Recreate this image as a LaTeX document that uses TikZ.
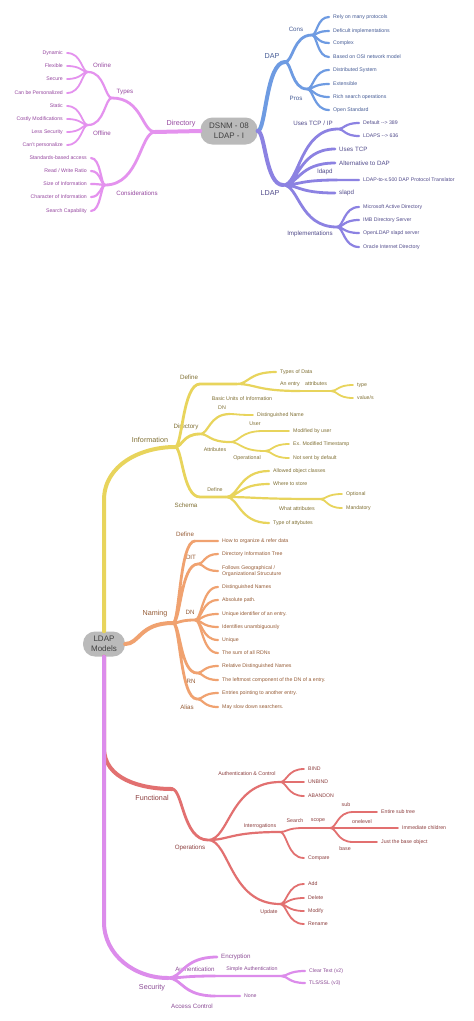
\documentclass[tikz,border=0pt]{standalone}
\usepackage{fontspec}
\setmainfont{Liberation Sans}
\usetikzlibrary{calc}

\definecolor{dirL}{RGB}{228,146,238}
\definecolor{dirT}{RGB}{150,72,160}
\definecolor{dapL}{RGB}{110,155,226}
\definecolor{dapT}{RGB}{70,92,150}
\definecolor{ldapL}{RGB}{140,130,226}
\definecolor{ldapT}{RGB}{82,76,140}
\definecolor{infL}{RGB}{232,212,92}
\definecolor{infT}{RGB}{128,112,52}
\definecolor{namL}{RGB}{240,162,112}
\definecolor{namT}{RGB}{150,92,54}
\definecolor{funL}{RGB}{226,112,112}
\definecolor{funT}{RGB}{140,62,62}
\definecolor{secL}{RGB}{220,140,235}
\definecolor{secT}{RGB}{140,76,150}
\definecolor{rootF}{RGB}{186,186,186}

\tikzset{
  sbranch/.style={line cap=round, to path={let \p1=(\tikztostart),\p2=(\tikztotarget) in
      .. controls ({\x1+0.3*(\x2-\x1)},\y1) and ({\x1+0.3*(\x2-\x1)},\y2) .. (\tikztotarget) \tikztonodes}},
  wA/.style={line width=4pt, line cap=round},
  wB/.style={line width=2.8pt},
  wC/.style={line width=2.2pt},
  wD/.style={line width=1.8pt},
  rootnode/.style={fill=rootF, rounded corners=12pt, minimum width=57pt, minimum height=27pt,
      inner sep=1pt, align=center, font=\fontsize{8}{10}\selectfont, text=black!75},
  labA/.style={inner sep=0pt, font=\fontsize{7.2}{8}\selectfont},
  labB/.style={inner sep=0pt, font=\fontsize{6.2}{7}\selectfont},
  labC/.style={inner sep=0pt, font=\fontsize{5.3}{6}\selectfont},
  leafR/.style={anchor=west, inner xsep=4pt, inner ysep=1pt, align=left, font=\fontsize{5.2}{6.3}\selectfont},
  leafRB/.style={leafR, font=\fontsize{6.2}{7}\selectfont},
  leafL/.style={anchor=east, inner xsep=4pt, inner ysep=1pt, font=\fontsize{5.2}{6.3}\selectfont},
}

\begin{document}
\begin{tikzpicture}[x=1pt,y=-1pt]
\useasboundingbox (0,0) rectangle (474,1021);
\fill[white] (0,0) rectangle (474,1021);

% ===== DSNM - 08 map =====
\node[rootnode] (dsnm) at (229,131) {DSNM - 08\\LDAP - I};

% Directory
\coordinate (jDir) at (155,132);
\coordinate (jTypes) at (112,98);
\coordinate (jOnline) at (88,72);
\coordinate (jOffline) at (88,125);
\coordinate (jConsid) at (105,185);
\node[labA,text=dirT] (dir) at (181,124) {Directory};
\node[labB,text=dirT] (types) at (125,92) {Types};
\node[labB,text=dirT] (online) at (102,65) {Online};
\node[labB,text=dirT] (offline) at (102,133) {Offline};
\node[labB,text=dirT] (consid) at (137,193) {Considerations};
\draw[dirL,wA] (dsnm.west) -- (jDir);
\draw[dirL,wB,sbranch] (jDir) to (jTypes) (jDir) to (jConsid);
\draw[dirL,wC,sbranch] (jTypes) to (jOnline) (jTypes) to (jOffline);
\foreach \y/\t [count=\i] in {53/Dynamic,66/Flexible,79/Secure,93/Can be Personalized}{
  \node[leafL,text=dirT] (onl\i) at (67,\y) {\t};
  \draw[dirL,wD,sbranch] (jOnline) to (onl\i.east);
}
\foreach \y/\t [count=\i] in {106/Static,119/Costly Modifications,132/Less Security,145/Can't personalize}{
  \node[leafL,text=dirT] (off\i) at (67,\y) {\t};
  \draw[dirL,wD,sbranch] (jOffline) to (off\i.east);
}
\foreach \y/\t [count=\i] in {158/Standards-based access,171/{Read / Write Ratio},184/Size of Information,197/Character of Information,211/Search Capability}{
  \node[leafL,text=dirT] (csd\i) at (91,\y) {\t};
  \draw[dirL,wC,sbranch] (jConsid) to (csd\i.east);
}

% DAP
\coordinate (jDAP) at (285,62);
\coordinate (jCons) at (312,35);
\coordinate (jPros) at (307,89);
\node[labA,text=dapT] (dap) at (272,56) {DAP};
\node[labB,text=dapT] (cons) at (296,29) {Cons};
\node[labB,text=dapT] (pros) at (296,98) {Pros};
\draw[dapL,wA,sbranch] (dsnm.east) to (jDAP);
\draw[dapL,wB,sbranch] (jDAP) to (jCons) (jDAP) to (jPros);
\foreach \y/\t [count=\i] in {17/Rely on many protocols,31/Deficult implementations,43/Complex,57/Based on OSI network model}{
  \node[leafR,text=dapT] (con\i) at (329,\y) {\t};
  \draw[dapL,wC,sbranch] (jCons) to (con\i.west);
}
\foreach \y/\t [count=\i] in {70/Distributed System,84/Extensible,97/Rich search operations,110/Open Standard}{
  \node[leafR,text=dapT] (pro\i) at (329,\y) {\t};
  \draw[dapL,wC,sbranch] (jPros) to (pro\i.west);
}

% LDAP
\coordinate (jLDAP) at (283,185);
\coordinate (jTcpip) at (338,129);
\coordinate (jLdapd) at (337,180);
\coordinate (jImpl) at (337,227);
\node[labA,text=ldapT] (ldap) at (270,193) {LDAP};
\node[labB,text=ldapT] (tcpip) at (313,123) {Uses TCP / IP};
\node[labB,text=ldapT] (ldapd) at (325,172) {ldapd};
\node[labB,text=ldapT] (impl) at (310,234) {Implementations};
\node[leafRB,text=ldapT] (usetcp) at (335,149) {Uses TCP};
\node[leafRB,text=ldapT] (altdap) at (335,163) {Alternative to DAP};
\node[leafRB,text=ldapT] (slapd) at (335,193) {slapd};
\node[leafR,text=ldapT] (port1) at (359,123) {Default -{}-> 389};
\node[leafR,text=ldapT] (port2) at (359,136) {LDAPS -{}-> 636};
\node[leafR,text=ldapT] (transl) at (359,180) {LDAP-to-x.500 DAP Protocol Translator};
\draw[ldapL,wA,sbranch] (dsnm.east) to (jLDAP);
\draw[ldapL,wB,sbranch] (jLDAP) to (jTcpip) (jLDAP) to (usetcp.west) (jLDAP) to (altdap.west)
  (jLDAP) to (jLdapd) (jLDAP) to (slapd.west) (jLDAP) to (jImpl);
\draw[ldapL,wC,sbranch] (jTcpip) to (port1.west) (jTcpip) to (port2.west) (jLdapd) to (transl.west);
\foreach \y/\t [count=\i] in {207/Microsoft Active Directory,220/IMB Directory Server,233/OpenLDAP slapd server,247/Oracle Internet Directory}{
  \node[leafR,text=ldapT] (imp\i) at (359,\y) {\t};
  \draw[ldapL,wC,sbranch] (jImpl) to (imp\i.west);
}

% ===== LDAP Models map =====
\node[rootnode,minimum width=42pt,minimum height=25pt] (models) at (104,644) {LDAP\\Models};

% Information
\coordinate (cUp) at (104,500);
\coordinate (jInfo) at (175,447);
\coordinate (jIDef) at (200,384);
\coordinate (jIDefE) at (237,384);
\coordinate (jEntry) at (300,391);
\coordinate (jAttrs) at (331,391);
\coordinate (jIDir) at (200,434);
\coordinate (jIDN) at (230,414);
\coordinate (jIAttr) at (230,442);
\coordinate (jUser) at (263,431);
\coordinate (jOper) at (265,451);
\coordinate (jSchema) at (200,497);
\coordinate (jSDef) at (226,497);
\coordinate (jWhat) at (320,499);
\node[labA,text=infT] (info) at (150,440) {Information};
\node[labB,text=infT] (idef) at (189,377) {Define};
\node[labC,text=infT] (entry) at (290,384) {An entry};
\node[labC,text=infT] (attrs) at (316,384) {attributes};
\node[labC,text=infT] (basic) at (242,399) {Basic Units of Information};
\node[labB,text=infT] (idir) at (186,427) {Directory};
\node[labC,text=infT] (idn) at (222,408) {DN};
\node[labC,text=infT] (iattr) at (215,450) {Attributes};
\node[labC,text=infT] (user) at (255,424) {User};
\node[labC,text=infT] (oper) at (247,458) {Operational};
\node[labB,text=infT] (schema) at (186,505) {Schema};
\node[labC,text=infT] (sdef) at (215,490) {Define};
\node[labC,text=infT] (what) at (297,509) {What attributes};
\node[leafR,text=infT] (typdata) at (276,372) {Types of Data};
\node[leafR,text=infT] (type) at (353,385) {type};
\node[leafR,text=infT] (values) at (353,398) {value/s};
\node[leafR,text=infT] (dname) at (253,415) {Distinguished Name};
\node[leafR,text=infT] (moduser) at (289,431) {Modified by user};
\node[leafR,text=infT] (exmod) at (289,444) {Ex. Modified Timestamp};
\node[leafR,text=infT] (notsent) at (289,458) {Not sent by default};
\node[leafR,text=infT] (allowed) at (269,471) {Allowed object classes};
\node[leafR,text=infT] (where) at (269,484) {Where to store};
\node[leafR,text=infT] (typeatt) at (269,523) {Type of attybutes};
\node[leafR,text=infT] (optional) at (342,494) {Optional};
\node[leafR,text=infT] (mandatory) at (342,508) {Mandatory};
\draw[infL,wA] (models.north) -- (cUp) to[out=90,in=180] (jInfo);
\draw[infL,wB,sbranch] (jInfo) to (jIDef) -- (jIDefE) (jInfo) to (jIDir) (jInfo) to (jSchema) -- (jSDef);
\draw[infL,wC,sbranch] (jIDefE) to (typdata.west) (jIDefE) to (jEntry) (jIDir) to (jIDN) (jIDir) to (jIAttr)
  (jSDef) to (allowed.west) (jSDef) to (where.west) (jSDef) to (jWhat) (jSDef) to (typeatt.west);
\draw[infL,wD,sbranch] (jEntry) -- (jAttrs) (jAttrs) to (type.west) (jAttrs) to (values.west)
  (jIDN) to (dname.west) (jIAttr) to (jUser) (jIAttr) to (jOper) (jUser) to (moduser.west)
  (jOper) to (exmod.west) (jOper) to (notsent.west) (jWhat) to (optional.west) (jWhat) to (mandatory.west);

% Naming
\coordinate (jNaming) at (173,623);
\coordinate (jNDef) at (195,541);
\coordinate (jDIT) at (198,564);
\coordinate (jNDN) at (195,620);
\coordinate (jRN) at (197,673);
\coordinate (jAlias) at (197,699);
\node[labA,text=namT] (naming) at (155,614) {Naming};
\node[labB,text=namT] (ndef) at (185,534) {Define};
\node[labB,text=namT] (dit) at (191,557) {DIT};
\node[labB,text=namT] (ndn) at (190,612) {DN};
\node[labB,text=namT] (rn) at (191,681) {RN};
\node[labB,text=namT] (alias) at (187,707) {Alias};
\node[leafR,text=namT] (howto) at (218,541) {How to organize \& refer data};
\node[leafR,text=namT] (dirtree) at (218,554) {Directory Information Tree};
\node[leafR,text=namT] (follows) at (218,571) {Follows Geographical /\\Organizational Strucuture};
\draw[namL,wA,sbranch] (models.east) to (jNaming);
\draw[namL,wB,sbranch] (jNaming) to (jNDef) (jNaming) to (jDIT) (jNaming) to (jNDN) (jNaming) to (jRN) (jNaming) to (jAlias);
\draw[namL,wC,sbranch] (jNDef) to (howto.west) (jDIT) to (dirtree.west) (jDIT) to (follows.west);
\foreach \y/\t [count=\i] in {587/Distinguished Names,600/Absolute path.,614/Unique identifier of an entry.,627/Identifies unambiguously,640/Unique,653/The sum of all RDNs}{
  \node[leafR,text=namT] (dn\i) at (218,\y) {\t};
  \draw[namL,wC,sbranch] (jNDN) to (dn\i.west);
}
\foreach \y/\t [count=\i] in {666/Relative Distinguished Names,680/The leftmost component of the DN of a entry.}{
  \node[leafR,text=namT] (rn\i) at (218,\y) {\t};
  \draw[namL,wC,sbranch] (jRN) to (rn\i.west);
}
\foreach \y/\t [count=\i] in {693/Entries pointing to another entry.,707/May slow down searchers.}{
  \node[leafR,text=namT] (al\i) at (218,\y) {\t};
  \draw[namL,wC,sbranch] (jAlias) to (al\i.west);
}

% Functional
\coordinate (cDownF) at (104,748);
\coordinate (jFunc) at (172,789);
\coordinate (jOps) at (208,840);
\coordinate (jAC) at (280,782);
\coordinate (jInt) at (280,832);
\coordinate (jSearch) at (303,828);
\coordinate (jScope) at (330,828);
\coordinate (jSub) at (353,812);
\coordinate (jOne) at (373,828);
\coordinate (jBase) at (353,842);
\coordinate (jUpd) at (280,904);
\node[labA,text=funT] (func) at (152,798) {Functional};
\node[labB,text=funT] (ops) at (190,848) {Operations};
\node[labC,text=funT] (ac) at (247,774) {Authentication \& Control};
\node[labC,text=funT] (interr) at (260,826) {Interrogations};
\node[labC,text=funT] (search) at (295,821) {Search};
\node[labC,text=funT] (scope) at (318,821) {scope};
\node[labC,text=funT] (sub) at (346,805) {sub};
\node[labC,text=funT] (onelevel) at (362,822) {onelevel};
\node[labC,text=funT] (base) at (345,849) {base};
\node[labC,text=funT] (update) at (269,912) {Update};
\node[leafR,text=funT] (entire) at (377,812) {Entire sub tree};
\node[leafR,text=funT] (immed) at (398,828) {Immediate children};
\node[leafR,text=funT] (justbase) at (377,842) {Just the base object};
\node[leafR,text=funT] (compare) at (304,858) {Compare};
\draw[funL,wA] (models.south) -- (cDownF) to[out=-90,in=180] (jFunc);
\draw[funL,wB,sbranch] (jFunc) to (jOps);
\draw[funL,wC,sbranch] (jOps) to (jAC) (jOps) to (jInt) (jOps) to (jUpd);
\draw[funL,wD,sbranch] (jInt) to (jSearch) -- (jScope) (jInt) to (compare.west)
  (jScope) to (jSub) (jScope) -- (jOne) (jScope) to (jBase)
  (jSub) -- (entire.west) (jOne) -- (immed.west) (jBase) -- (justbase.west);
\foreach \y/\t [count=\i] in {769/BIND,782/UNBIND,796/ABANDON}{
  \node[leafR,text=funT] (ac\i) at (304,\y) {\t};
  \draw[funL,wD,sbranch] (jAC) to (ac\i.west);
}
\foreach \y/\t [count=\i] in {884/Add,898/Delete,911/Modify,924/Rename}{
  \node[leafR,text=funT] (up\i) at (304,\y) {\t};
  \draw[funL,wD,sbranch] (jUpd) to (up\i.west);
}

% Security
\coordinate (cDownS) at (104,922);
\coordinate (jSec) at (168,978);
\coordinate (jAuth) at (215,976);
\coordinate (jSimple) at (281,976);
\coordinate (jAcc) at (215,996);
\node[labA,text=secT] (sec) at (152,988) {Security};
\node[labB,text=secT] (auth) at (195,969) {Authentication};
\node[labC,text=secT] (simple) at (252,969) {Simple Authentication};
\node[labB,text=secT] (acc) at (192,1006) {Access Control};
\node[leafRB,text=secT] (encr) at (217,957) {Encryption};
\node[leafR,text=secT] (clear) at (305,971) {Clear Text (v2)};
\node[leafR,text=secT] (tls) at (305,983) {TLS/SSL (v3)};
\node[leafR,text=secT] (none) at (240,996) {None};
\draw[secL,wA] (models.south) -- (cDownS) to[out=-90,in=180] (jSec);
\draw[secL,wB,sbranch] (jSec) to (jAuth) (jSec) to (encr.west) (jSec) to (jAcc);
\draw[secL,wC,sbranch] (jAuth) -- (jSimple) (jAcc) -- (none.west)
  (jSimple) to (clear.west) (jSimple) to (tls.west);
\end{tikzpicture}
\end{document}
